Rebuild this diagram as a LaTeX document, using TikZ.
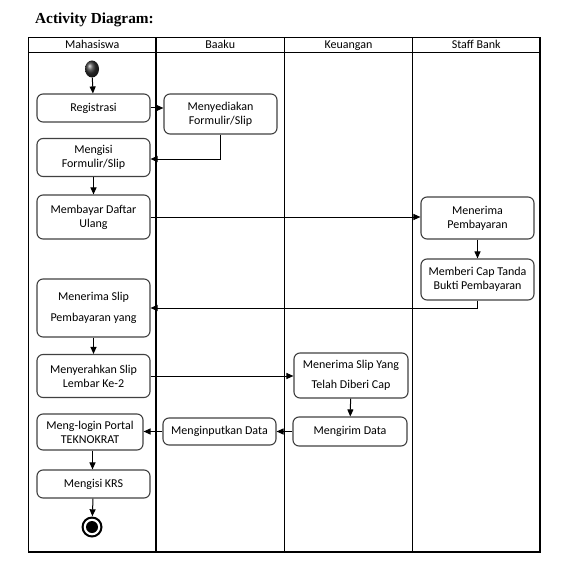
\documentclass[tikz,border=0pt]{standalone}
\usepackage{fontspec}
\setmainfont{Carlito}
\newfontfamily\titlefont{Liberation Serif}
\usepackage{tikz}
\usetikzlibrary{arrows.meta,shapes.geometric}

\begin{document}
\begin{tikzpicture}[x=1pt,y=-1pt,
  act/.style={draw=black!75,line width=1.1pt,rounded corners=6pt,
    minimum width=113pt,inner sep=0pt,align=center,
    font=\fontsize{12}{14}\selectfont},
  lanehead/.style={inner sep=0pt,anchor=base,font=\fontsize{12}{14}\selectfont},
  lane/.style={line width=1.3pt},
  flow/.style={-{Triangle[length=7pt,width=6pt]},line width=1pt}]
\useasboundingbox (0,0) rectangle (568,575);
\node[anchor=west,inner sep=0pt,font=\titlefont\bfseries\fontsize{15.3}{18}\selectfont]
  (title) at (35,20) {Activity Diagram:};
% swimlanes
\draw[lane] (28.5,37.5) rectangle (540,552);
\draw[lane] (28.5,52.5) -- (540,52.5);
\draw[lane] (156,37.5) -- (156,552);
\draw[lane] (284.5,37.5) -- (284.5,552);
\draw[lane] (412.5,37.5) -- (412.5,552);
\node[lanehead] (mhs) at (92.25,48.5) {Mahasiswa};
\node[lanehead] (baaku) at (220.25,48.5) {Baaku};
\node[lanehead] (keu) at (348.5,48.5) {Keuangan};
\node[lanehead] (bank) at (476.25,48.5) {Staff Bank};
% activities
\node[ellipse,minimum width=14pt,minimum height=17pt,inner sep=0pt,
  shading=ball,ball color=black!80] (start) at (92,69) {};
\node[act,minimum height=28pt] (reg) at (93.5,108) {Registrasi};
\node[act,minimum height=40pt] (sedia) at (220.5,114) {Menyediakan\\Formulir/Slip};
\node[act,minimum height=38pt] (isi) at (93.5,157.5) {Mengisi\\Formulir/Slip};
\node[act,minimum height=44pt] (bayar) at (93.5,217) {Membayar Daftar\\Ulang};
\node[act,minimum height=42pt] (terima) at (477.5,218) {Menerima\\Pembayaran};
\node[act,minimum height=41pt] (cap) at (477.5,279.5) {Memberi Cap Tanda\\Bukti Pembayaran};
\node[act,minimum height=58pt] (slip) at (93.5,308) {Menerima Slip\\[7pt]Pembayaran yang};
\node[act,minimum height=43pt] (serah) at (93.5,376) {Menyerahkan Slip\\Lembar Ke-2};
\node[act,minimum width=114pt,minimum height=45pt] (slipcap) at (351,375.5)
  {Menerima Slip Yang\\[6pt]Telah Diberi Cap};
\node[act,minimum width=114pt,minimum height=29pt] (kirim) at (350,431.5) {Mengirim Data};
\node[act,minimum height=27pt] (input) at (219.5,431.5) {Menginputkan Data};
\node[act,minimum width=106pt,minimum height=36pt] (login) at (90,432) {Meng-login Portal\\TEKNOKRAT};
\node[act,minimum height=28pt] (krs) at (93.5,484) {Mengisi KRS};
\node[circle,fill=black,minimum size=21pt,inner sep=0pt] (end) at (92,527) {};
\fill[white] (end.center) circle (8.3pt);
\fill[black] (end.center) circle (6pt);
% flows
\draw[flow] (start) -- (reg);
\draw[flow] (reg.east) -- (reg.east -| sedia.west);
\draw[flow] (sedia.south) |- (0,159 -| isi.east);
\draw[flow] (isi) -- (bayar);
\draw[flow] (bayar.east) -- (bayar.east -| terima.west);
\draw[flow] (terima) -- (cap);
\draw[flow] (cap.south) |- (slip.east);
\draw[flow] (slip) -- (serah);
\draw[flow] (serah.east) -- (serah.east -| slipcap.west);
\draw[flow] (slipcap) -- (kirim);
\draw[flow] (kirim) -- (input);
\draw[flow] (input) -- (input.west -| login.east);
\draw[flow] (login.south -| krs.north) ++(-1,0) -- (krs.north -| 92.5,0);
\draw[flow] (krs) -- (end);
\end{tikzpicture}
\end{document}
